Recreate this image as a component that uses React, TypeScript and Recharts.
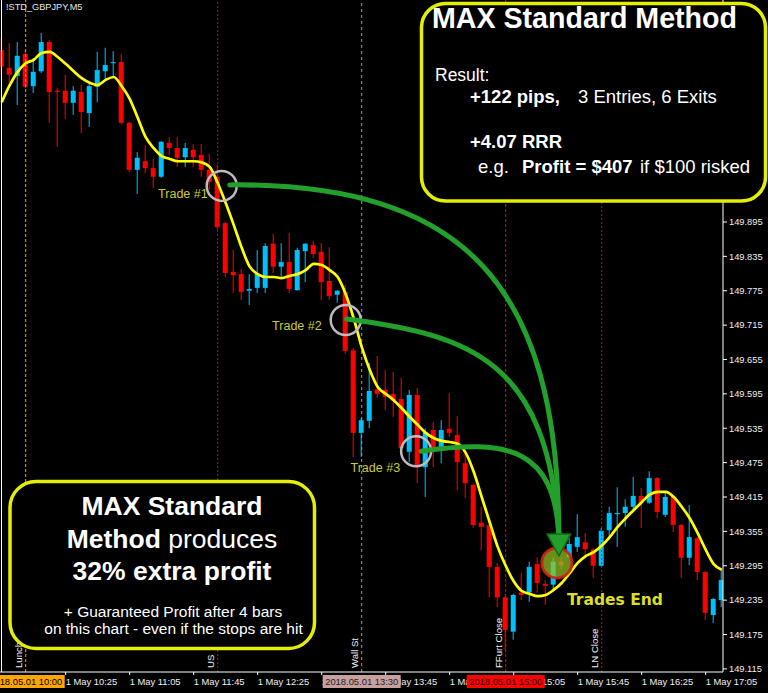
import React from "react";
import { ComposedChart, Bar, Line, XAxis, YAxis, ReferenceLine } from "recharts";

// GBPJPY M5, 1 May 2018. Bars are counted from the 10:00 bar, first visible bar is 09:45.
const FIRST_BAR = -3;

const OPEN = [
  150.195, 150.164, 150.150, 150.188, 150.132, 150.158, 150.209, 150.124, 150.124, 150.103,
  150.122, 150.085, 150.131, 150.158, 150.172, 150.174, 150.068, 149.986, 150.001, 149.989,
  149.974, 150.033, 150.024, 150.008, 150.021, 150.012, 149.986, 149.974, 149.893, 149.808,
  149.804, 149.775, 149.780, 149.780, 149.857, 149.817, 149.825, 149.776, 149.844, 149.855,
  149.843, 149.792, 149.768, 149.773, 149.671, 149.527, 149.548, 149.603, 149.602, 149.595,
  149.586, 149.494, 149.593, 149.467, 149.532, 149.502, 149.534, 149.523, 149.474, 149.436,
  149.370, 149.366, 149.293, 149.240, 149.180, 149.248, 149.249, 149.298, 149.263, 149.262,
  149.302, 149.310, 149.328, 149.336, 149.323, 149.295, 149.357, 149.385, 149.387, 149.398,
  149.417, 149.405, 149.448, 149.384, 149.415, 149.366, 149.309, 149.343, 149.284, 149.209,
  149.235,
];
const HIGH = [
  150.216, 150.207, 150.209, 150.195, 150.181, 150.225, 150.213, 150.129, 150.152, 150.132,
  150.134, 150.138, 150.192, 150.199, 150.193, 150.188, 150.070, 150.017, 150.029, 150.005,
  150.036, 150.043, 150.043, 150.033, 150.031, 150.031, 150.014, 149.995, 149.895, 149.846,
  149.813, 149.804, 149.846, 149.858, 149.874, 149.858, 149.876, 149.850, 149.858, 149.862,
  149.858, 149.851, 149.776, 149.785, 149.675, 149.553, 149.649, 149.661, 149.637, 149.633,
  149.623, 149.602, 149.605, 149.535, 149.546, 149.549, 149.596, 149.556, 149.492, 149.438,
  149.398, 149.368, 149.300, 149.242, 149.246, 149.282, 149.302, 149.310, 149.270, 149.309,
  149.310, 149.343, 149.385, 149.352, 149.326, 149.361, 149.398, 149.432, 149.411, 149.450,
  149.431, 149.460, 149.450, 149.422, 149.417, 149.368, 149.401, 149.345, 149.286, 149.239,
  149.291,
];
const LOW = [
  150.152, 150.138, 150.099, 150.129, 150.120, 150.155, 150.068, 150.026, 150.075, 150.082,
  150.050, 150.061, 150.104, 150.143, 150.148, 150.066, 149.982, 149.944, 149.980, 149.954,
  149.972, 150.012, 149.991, 149.991, 149.991, 149.974, 149.951, 149.881, 149.799, 149.771,
  149.759, 149.750, 149.771, 149.771, 149.806, 149.797, 149.771, 149.775, 149.790, 149.832,
  149.759, 149.759, 149.754, 149.665, 149.485, 149.485, 149.535, 149.588, 149.567, 149.555,
  149.488, 149.476, 149.439, 149.415, 149.467, 149.474, 149.520, 149.427, 149.413, 149.361,
  149.322, 149.240, 149.223, 149.148, 149.166, 149.235, 149.232, 149.248, 149.227, 149.253,
  149.289, 149.309, 149.319, 149.310, 149.274, 149.293, 149.340, 149.328, 149.363, 149.392,
  149.361, 149.403, 149.378, 149.380, 149.354, 149.274, 149.296, 149.270, 149.200, 149.195,
  149.223,
];
const CLOSE = [
  150.166, 150.152, 150.185, 150.131, 150.157, 150.209, 150.122, 150.122, 150.103, 150.124,
  150.087, 150.132, 150.160, 150.169, 150.174, 150.068, 149.986, 150.007, 149.989, 149.974,
  150.035, 150.024, 150.007, 150.024, 150.008, 149.986, 149.965, 149.886, 149.806, 149.802,
  149.773, 149.778, 149.804, 149.853, 149.817, 149.825, 149.778, 149.846, 149.857, 149.839,
  149.790, 149.766, 149.775, 149.670, 149.527, 149.549, 149.600, 149.595, 149.590, 149.583,
  149.500, 149.593, 149.471, 149.528, 149.502, 149.532, 149.527, 149.476, 149.439, 149.366,
  149.363, 149.293, 149.240, 149.183, 149.244, 149.244, 149.293, 149.265, 149.260, 149.302,
  149.296, 149.333, 149.345, 149.324, 149.295, 149.356, 149.387, 149.387, 149.398, 149.417,
  149.405, 149.448, 149.389, 149.415, 149.366, 149.309, 149.345, 149.284, 149.213, 149.237,
  149.270,
];
// yellow smoothed average
const SIGNAL = [
  150.104, 150.134, 150.157, 150.172, 150.178, 150.190, 150.192, 150.183, 150.171, 150.158,
  150.146, 150.138, 150.134, 150.143, 150.148, 150.132, 150.110, 150.077, 150.043, 150.024,
  150.010, 150.005, 150.001, 150.001, 150.001, 149.999, 149.991, 149.963, 149.928, 149.890,
  149.850, 149.817, 149.804, 149.799, 149.799, 149.797, 149.801, 149.804, 149.811, 149.822,
  149.820, 149.811, 149.799, 149.769, 149.727, 149.677, 149.637, 149.607, 149.595, 149.584,
  149.570, 149.555, 149.541, 149.527, 149.518, 149.513, 149.511, 149.508, 149.492, 149.459,
  149.415, 149.371, 149.328, 149.295, 149.268, 149.251, 149.246, 149.242, 149.244, 149.253,
  149.265, 149.282, 149.300, 149.312, 149.319, 149.330, 149.345, 149.363, 149.378, 149.392,
  149.406, 149.419, 149.424, 149.424, 149.415, 149.398, 149.378, 149.352, 149.323, 149.298,
  149.288,
];

const TIME_TICK_BARS = [5, 13, 21, 29, 37, 45, 53, 61, 69, 77, 85];
const TIME_TICK_LABELS = [
  "1 May 10:25", "1 May 11:05", "1 May 11:45", "1 May 12:25", "1 May 13:05", "1 May 13:45",
  "1 May 14:25", "1 May 15:05", "1 May 15:45", "1 May 16:25", "1 May 17:05",
];
const PRICE_TICKS = [
  149.115, 149.175, 149.235, 149.295, 149.355, 149.415, 149.475, 149.535, 149.595, 149.655,
  149.715, 149.775, 149.835, 149.895, 149.955, 150.015, 150.075, 150.135, 150.195, 150.255,
];

const SESSIONS = [
  { bar: 0, name: "Lunch", color: "#ff9900", dash: "3 2", stamp: "2018.05.01 10:00", stampBg: "#ffa500", stampInk: "#000" },
  { bar: 24, name: "US", color: "#9a1c1c", dash: "2 2" },
  { bar: 42, name: "Wall St", color: "#b89090", dash: "3 3", stamp: "2018.05.01 13:30", stampBg: "#c8a0a0", stampInk: "#222" },
  { bar: 60, name: "FFurt Close", color: "#cc1515", dash: "3 2", stamp: "2018.05.01 15:00", stampBg: "#ff0000", stampInk: "#200000" },
  { bar: 72, name: "LN Close", color: "#a01c1c", dash: "2 2" },
];

const TRADES = [
  { label: "Trade #1", bar: 24.5, price: 149.958, dx: -14, dy: 12 },
  { label: "Trade #2", bar: 40.0, price: 149.724, dx: -24, dy: 10 },
  { label: "Trade #3", bar: 48.8, price: 149.495, dx: -16, dy: 21 },
];
const TRADES_END = { bar: 66.4, price: 149.3 };

const W = 768;
const H = 693;
const AXIS_W = 45;
const AXIS_H = 21;
const PLOT_W = W - AXIS_W;
const PLOT_H = H - AXIS_H;
const X_DOMAIN: [number, number] = [-3.2125, 87.1625];
const Y_DOMAIN: [number, number] = [149.1096, 150.2824];

const UP = "#00bfff";
const DOWN = "#ff0000";
const FONT = "'Liberation Sans', Arial, sans-serif";

const data = OPEN.map((open, i) => ({
  bar: FIRST_BAR + i,
  open,
  high: HIGH[i],
  low: LOW[i],
  close: CLOSE[i],
  signal: SIGNAL[i],
}));

// same mapping as the axes, for the drawn-on annotations
const xPx = (bar: number) => ((bar - X_DOMAIN[0]) / (X_DOMAIN[1] - X_DOMAIN[0])) * PLOT_W;
const yPx = (price: number) => ((Y_DOMAIN[1] - price) / (Y_DOMAIN[1] - Y_DOMAIN[0])) * PLOT_H;

function Candle(props: any) {
  const { x, y, width, height, payload } = props;
  if (!payload || height == null) return null;
  const { open, close, high, low } = payload;
  const k = height / (high - low || 1);
  const at = (v: number) => y + (high - v) * k;
  const color = close >= open ? UP : DOWN;
  const top = at(Math.max(open, close));
  const bottom = at(Math.min(open, close));
  const cx = x + width / 2;
  return (
    <g>
      <line x1={cx} x2={cx} y1={y} y2={y + height} stroke={color} strokeWidth={1} />
      <rect x={x} y={top} width={width} height={Math.max(1, bottom - top)} fill={color} />
    </g>
  );
}

function TimeTick(props: any) {
  const { x, payload } = props;
  const label = TIME_TICK_LABELS[TIME_TICK_BARS.indexOf(payload.value)];
  return (
    <text x={x} y={684.5} fill="#f0f0f0" fontSize={9.4} fontFamily={FONT}>
      {label}
    </text>
  );
}

function Overlay() {
  const end = { x: xPx(TRADES_END.bar), y: yPx(TRADES_END.price) };
  const tip = { x: end.x + 2, y: end.y - 7 };
  const t = TRADES.map((tr) => ({ ...tr, x: xPx(tr.bar), y: yPx(tr.price) }));
  const join = { x: tip.x, y: tip.y - 21 };
  const green = "#22a02b";
  return (
    <svg
      width={W}
      height={H}
      style={{ position: "absolute", left: 0, top: 0, pointerEvents: "none" }}
      fontFamily={FONT}
    >
      <line x1={1.5} y1={0} x2={1.5} y2={PLOT_H} stroke="#fff" />
      <text x={6} y={10} fill="#e8e8e8" fontSize={9.2}>
        !STD_GBPJPY,M5
      </text>

      {SESSIONS.map((s) => (
        <text
          key={s.name}
          transform={`translate(${xPx(s.bar) - 3.5},668) rotate(-90)`}
          fill="#f0f0f0"
          fontSize={9.6}
        >
          {s.name}
        </text>
      ))}

      {SESSIONS.filter((s) => s.stamp).map((s) => (
        <g key={s.stamp}>
          <rect x={xPx(s.bar) - 39} y={675} width={78} height={13} fill={s.stampBg} />
          <text x={xPx(s.bar)} y={685} textAnchor="middle" fontSize={9.4} fill={s.stampInk}>
            {s.stamp}
          </text>
        </g>
      ))}

      {/* result boxes */}
      <rect x={421.5} y={3.5} width={344} height={197.5} rx={24} fill="#000" stroke="#e4ee00" strokeWidth={3.5} />
      <text x={432} y={28} fill="#fff" fontSize={28.6} fontWeight="bold">
        MAX Standard Method
      </text>
      <text x={435} y={81} fill="#fff" fontSize={17.5}>
        Result:
      </text>
      <text x={470} y={103} fill="#fff" fontSize={18.5} fontWeight="bold">
        +122 pips,
      </text>
      <text x={578} y={103} fill="#fff" fontSize={18.5}>
        3 Entries, 6 Exits
      </text>
      <text x={470} y={148} fill="#fff" fontSize={18.5} fontWeight="bold">
        +4.07 RRR
      </text>
      <text x={478} y={173} fill="#fff" fontSize={18.5}>
        e.g.
      </text>
      <text x={522} y={173} fill="#fff" fontSize={18.5} fontWeight="bold">
        Profit = $407
      </text>
      <text x={640} y={173} fill="#fff" fontSize={18.5}>
        if $100 risked
      </text>

      <rect x={10} y={481.5} width={304.5} height={167} rx={26} fill="#000" stroke="#e4ee00" strokeWidth={3.5} />
      <g fill="#fff" textAnchor="middle">
        <text x={172} y={515} fontSize={26.5} fontWeight="bold">
          MAX Standard
        </text>
        <text x={172} y={548} fontSize={26.5}>
          <tspan fontWeight="bold">Method</tspan> produces
        </text>
        <text x={172} y={580} fontSize={26.5} fontWeight="bold">
          32% extra profit
        </text>
        <text x={173} y={617} fontSize={15.5}>
          + Guaranteed Profit after 4 bars
        </text>
        <text x={173.5} y={634} fontSize={15.5}>
          on this chart - even if the stops are hit
        </text>
      </g>

      {/* trades */}
      {t.map((tr) => (
        <g key={tr.label}>
          <circle cx={tr.x} cy={tr.y} r={15} fill="none" stroke="#bdbdbd" strokeWidth={2.5} />
          <text x={tr.x + tr.dx} y={tr.y + tr.dy} textAnchor="end" fill="#cccc33" fontSize={12.5}>
            {tr.label}
          </text>
        </g>
      ))}

      <circle cx={end.x} cy={end.y} r={15} fill="rgba(150,195,35,0.72)" stroke="rgba(205,35,20,0.9)" strokeWidth={3} />

      <g fill="none" stroke={green} strokeWidth={5} strokeLinecap="round">
        <path d={`M ${t[0].x + 8} ${t[0].y - 1} C 465 183, 558 285, ${join.x} ${join.y}`} />
        <path d={`M ${t[1].x + 1} ${t[1].y - 1} C 470 335, 548 360, ${join.x} ${join.y}`} />
        <path d={`M ${t[2].x + 5} ${t[2].y} C 510 438, 554 450, ${join.x} ${join.y}`} />
      </g>
      <polygon
        points={`${tip.x - 12},${join.y - 1} ${tip.x + 12},${join.y - 1} ${tip.x},${tip.y}`}
        fill={green}
        stroke="#136b19"
        strokeWidth={1.5}
        strokeLinejoin="round"
      />

      <text x={567} y={605} fill="#dede22" fontSize={15.5} fontWeight="bold" fontFamily="'DejaVu Sans', sans-serif">
        Trades End
      </text>
    </svg>
  );
}

export default function App() {
  return (
    <div style={{ position: "relative", width: W, height: H, background: "#000" }}>
      <style>{"body{margin:0;background:#000}"}</style>
      <ComposedChart width={W} height={H} data={data} margin={{ top: 0, right: 0, bottom: 0, left: 0 }}>
        <XAxis
          dataKey="bar"
          type="number"
          domain={X_DOMAIN}
          allowDataOverflow
          ticks={TIME_TICK_BARS}
          interval={0}
          height={AXIS_H}
          axisLine={{ stroke: "#fff" }}
          tickLine={{ stroke: "#fff" }}
          tickSize={3}
          tick={(p: any) => <TimeTick {...p} />}
        />
        <YAxis
          orientation="right"
          type="number"
          domain={Y_DOMAIN}
          allowDataOverflow
          ticks={PRICE_TICKS}
          interval={0}
          width={AXIS_W}
          axisLine={{ stroke: "#fff" }}
          tickLine={{ stroke: "#fff" }}
          tickSize={4}
          tickMargin={2}
          tick={{ fill: "#f0f0f0", fontSize: 9.3, fontFamily: FONT }}
          tickFormatter={(v: number) => v.toFixed(3)}
        />
        {SESSIONS.map((s) => (
          <ReferenceLine key={s.name} x={s.bar} stroke={s.color} strokeDasharray={s.dash} />
        ))}
        <Bar
          dataKey={(d: any) => [d.low, d.high]}
          barSize={5}
          shape={(p: any) => <Candle {...p} />}
          activeBar={false}
          isAnimationActive={false}
        />
        <Line
          dataKey="signal"
          type="monotone"
          stroke="#ffff00"
          strokeWidth={2.7}
          dot={false}
          activeDot={false}
          isAnimationActive={false}
        />
      </ComposedChart>
      <Overlay />
    </div>
  );
}
